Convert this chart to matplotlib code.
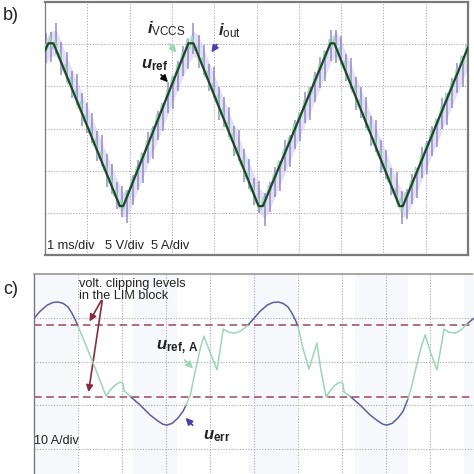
import numpy as np
import matplotlib.pyplot as plt

plt.rcParams['font.family'] = ['Liberation Sans', 'DejaVu Sans']
plt.rcParams['mathtext.fontset'] = 'custom'
plt.rcParams['mathtext.rm'] = 'Liberation Sans'
plt.rcParams['mathtext.bf'] = 'Liberation Sans:bold'
plt.rcParams['mathtext.it'] = 'Liberation Sans:italic:bold'

# ---- panel b: triangle reference (ms, div) ----
tri_t = [0.0, 0.08, 0.20, 1.77, 1.85, 3.39, 3.51, 5.05, 5.15, 6.75, 6.84, 8.38, 8.46, 10.0]
tri_v = [1.85, 2.02, 2.02, -1.84, -1.84, 2.02, 2.02, -1.84, -1.84, 2.02, 2.02, -1.84, -1.84, 1.92]

# switching ripple (div), one pattern repeated
out_hi = [0.42, 0.28, 0.48, 0.32, 0.38, 0.24, 0.46, 0.30, 0.36]
out_lo = [0.30, 0.44, 0.26, 0.46, 0.32, 0.40, 0.28, 0.48, 0.36]
vccs_amp = [0.16, 0.11, 0.19, 0.13, 0.17, 0.10]
ripple_step = 0.12  # ms
out_lag = 0.07      # ms

# ---- panel c: u_err and u_ref,A (div, div), NaN = gap ----
err_x = [0.0, 0.14, 0.30, 0.43, 0.55, 0.66, 0.77, 0.86, 0.93, 1.0, np.nan,
         2.18, 2.41, 2.64, 2.82, 2.93, 3.02, 3.14, 3.27, 3.39, 3.45, np.nan,
         4.86, 5.0, 5.14, 5.30, 5.43, 5.55, 5.66, 5.77, 5.86, 5.93, 6.0, np.nan,
         7.18, 7.41, 7.64, 7.82, 7.93, 8.02, 8.14, 8.27, 8.39, 8.50, np.nan,
         9.84, 10.0]
err_y = [2.99, 3.15, 3.29, 3.35, 3.36, 3.33, 3.25, 3.11, 2.97, 2.81, np.nan,
         1.21, 1.01, 0.78, 0.64, 0.57, 0.55, 0.59, 0.71, 0.87, 1.00, np.nan,
         2.83, 2.99, 3.15, 3.29, 3.35, 3.36, 3.33, 3.25, 3.11, 2.97, 2.81, np.nan,
         1.21, 1.01, 0.78, 0.64, 0.57, 0.55, 0.59, 0.71, 0.87, 1.15, np.nan,
         2.86, 2.99]
refA_x = [1.0, 1.32, 1.64, 1.73, 1.82, 1.91, 1.98, 2.02, 2.05, 2.18, np.nan,
          3.45, 3.55, 3.66, 3.77, 3.86, 4.0, 4.16, 4.30, 4.43, 4.57, 4.70, 4.86, np.nan,
          6.0, 6.11, 6.25, 6.43, 6.52, 6.64, 6.73, 6.82, 6.91, 6.98, 7.02, 7.05, 7.18, np.nan,
          8.50, 8.59, 8.70, 8.80, 8.89, 9.02, 9.16, 9.32, 9.43, 9.57, 9.70, 9.84]
refA_y = [2.81, 2.03, 1.21, 1.35, 1.44, 1.51, 1.53, 1.51, 1.33, 1.21, np.nan,
          1.00, 1.23, 1.76, 2.26, 2.58, 2.22, 1.81, 2.74, 2.67, 2.65, 2.70, 2.83, np.nan,
          2.81, 2.31, 1.83, 2.42, 1.81, 1.19, 1.33, 1.44, 1.51, 1.53, 1.49, 1.30, 1.21, np.nan,
          1.15, 1.46, 1.94, 2.33, 2.61, 2.19, 1.81, 2.74, 2.67, 2.65, 2.72, 2.86]
clip_levels = [2.83, 1.19]
shade_bands = [(0.0, 0.98), (2.25, 3.25), (4.86, 5.98), (7.30, 8.50), (9.77, 10.0)]

grid_col = '#a8a8a8'
frame_col = '#7a7a7a'
purple = '#5f5e9e'
green = '#9cd6b6'
maroon = '#8a2a40'

fig = plt.figure(figsize=(4.74, 4.74), dpi=100)

# ================= b) =================
ax = fig.add_axes([45 / 474, (474 - 255) / 474, 423 / 474, 253 / 474])
ax.set_xlim(0, 10)
ax.set_ylim(-3, 3)
for g in range(1, 10):
    ax.axvline(g, color=grid_col, lw=0.8, ls=(0, (1, 1.5)), zorder=0)
for g in range(-2, 3):
    ax.axhline(g, color=grid_col, lw=0.8, ls=(0, (1, 1.5)), zorder=0)

ts = np.arange(0.03, 10.0, ripple_step)
ref_s = np.interp(ts - out_lag, tri_t, tri_v)
hi = np.resize(out_hi, len(ts))
lo = np.resize(out_lo, len(ts))
ax.fill_between(ts, ref_s - 0.3, ref_s + 0.3, color='#cdc7ea', alpha=0.55, lw=0, zorder=1)
ax.vlines(ts, ref_s - lo, ref_s + hi, color='#8279c2', lw=1.1, alpha=0.85, zorder=2)

tz = np.arange(0.0, 10.0, ripple_step / 2)
amp = np.resize(vccs_amp, len(tz)) * np.resize([1, -1], len(tz))
ax.plot(tz, np.interp(tz, tri_t, tri_v) + amp, color=green, lw=1.0, alpha=0.9, zorder=3)

ax.plot(tri_t, tri_v, color='#1e4628', lw=1.6, zorder=4)

ax.set_xticks([])
ax.set_yticks([])
for side in ['top', 'right', 'bottom']:
    ax.spines[side].set_linewidth(1.6)
    ax.spines[side].set_color(frame_col)
ax.spines['left'].set_linewidth(0.9)
ax.spines['left'].set_color(frame_col)

ax.text(0.05, -2.92, '1 ms/div   5 V/div  5 A/div', fontsize=9.2, color='#222222', va='bottom')
ax.text(2.4, 2.25, r'$i_{\mathrm{VCCS}}$', fontsize=12, color='#222222')
ax.text(4.1, 2.2, r'$i_{\mathrm{out}}$', fontsize=12, color='#222222')
ax.text(2.27, 1.42, r'$u_{\mathbf{ref}}$', fontsize=12, color='#222222')
ax.annotate('', xy=(3.15, 1.75), xytext=(2.9, 2.05),
            arrowprops=dict(arrowstyle='-|>', color=green, lw=1.2, mutation_scale=10))
ax.annotate('', xy=(3.9, 1.75), xytext=(4.1, 2.05),
            arrowprops=dict(arrowstyle='-|>', color='#4a3fa8', lw=1.2, mutation_scale=10))
ax.annotate('', xy=(2.95, 1.05), xytext=(2.7, 1.32),
            arrowprops=dict(arrowstyle='-|>', color='black', lw=1.2, mutation_scale=10))

fig.text(3 / 474, 1 - 20 / 474, 'b)', fontsize=13, color='#222222')

# ================= c) =================
ac = fig.add_axes([34 / 474, (474 - 493) / 474, 440 / 474, 219 / 474])
ac.set_xlim(0, 10)
ac.set_ylim(-1, 4)
for a, b in shade_bands:
    ac.axvspan(a, b, color='#f6f8fb', lw=0, zorder=0)
for g in range(1, 10):
    ac.axvline(g, color=grid_col, lw=0.8, ls=(0, (1, 1.5)), zorder=1)
for g in range(0, 4):
    ac.axhline(g, color=grid_col, lw=0.8, ls=(0, (1, 1.5)), zorder=1)
for lvl in clip_levels:
    ac.axhline(lvl, color=maroon, lw=1.1, ls=(0, (5, 3)), alpha=0.85, zorder=2)

ac.plot(err_x, err_y, color=purple, lw=1.1, zorder=3)
ac.plot(refA_x, refA_y, color=green, lw=1.1, zorder=4)

ac.set_xticks([])
ac.set_yticks([])
ac.spines['right'].set_visible(False)
ac.spines['bottom'].set_visible(False)
ac.spines['top'].set_color('#999999')
ac.spines['top'].set_linestyle((0, (1, 1)))
ac.spines['top'].set_linewidth(1.2)
ac.spines['left'].set_color(frame_col)
ac.spines['left'].set_linewidth(1.0)

ac.text(1.03, 3.9, 'volt. clipping levels\nin the LIM block', fontsize=9.2,
        color='#222222', va='top', linespacing=1.0)
ac.annotate('', xy=(1.23, 2.86), xytext=(1.56, 3.45),
            arrowprops=dict(arrowstyle='-|>', color=maroon, lw=1.2, mutation_scale=10))
ac.annotate('', xy=(1.23, 1.24), xytext=(1.56, 3.45),
            arrowprops=dict(arrowstyle='-|>', color=maroon, lw=1.2, mutation_scale=10))
ac.text(2.78, 2.28, r'$u_{\mathbf{ref,\,A}}$', fontsize=12, color='#222222')
ac.annotate('', xy=(3.66, 1.8), xytext=(3.38, 2.08),
            arrowprops=dict(arrowstyle='-|>', color=green, lw=1.2, mutation_scale=10))
ac.text(3.83, 0.22, r'$u_{\mathbf{err}}$', fontsize=12, color='#222222')
ac.annotate('', xy=(3.4, 0.76), xytext=(3.65, 0.5),
            arrowprops=dict(arrowstyle='-|>', color='#4a3fa8', lw=1.2, mutation_scale=10))
ac.text(0.0, 0.06, '10 A/div', fontsize=9, color='#222222', va='bottom')

fig.text(3 / 474, 1 - 294 / 474, 'c)', fontsize=13, color='#222222')

fig.savefig('out.png', dpi=100)
